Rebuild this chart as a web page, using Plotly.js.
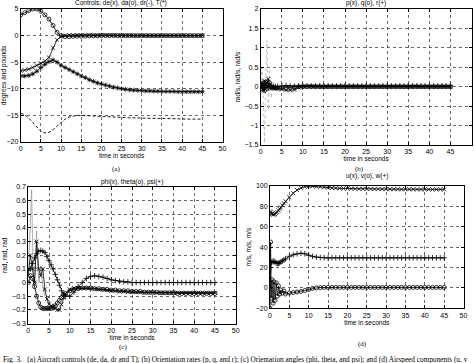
<!DOCTYPE html>
<html>
<head>
<meta charset="utf-8">
<script src="https://cdn.plot.ly/plotly-3.0.1.min.js"></script>
<style>html,body{margin:0;padding:0;background:#fff;}#chart{width:474px;height:363px;}</style>
</head>
<body>
<div id="chart"></div>
<script>
// ---------- Panel (a): controls ----------
var tA = [0,1,2,3,4,5,6,7,8,9,10,11,12,13,14,15,16,17,18,19,20,21,22,23,24,25,26,27,28,29,30,31,32,33,34,35,36,37,38,39,40,41,42,43,44,45];
var deA = [-6.6,-6.5,-6.3,-6.0,-5.6,-5.2,-4.8,-4.1,-2.3,-0.8,-0.2,0,0.1,0.1,0.1,0.1,0.1,0.1,0.1,0.1,0.1,0.1,0.1,0.1,0.05,0.05,0.05,0.05,0,0,0,0,0,0,0,0,0,0,0,0,0,0,0,0,0,0];
var daA = [3.9,4.3,4.7,5.0,5.0,4.6,3.9,3.1,1.9,0.6,0.0,-0.2,-0.2,-0.15,-0.1,-0.1,-0.1,-0.05,-0.05,-0.05,0,0,0,0,0,0,0,0,0,0,0,0,0,0,0,0,0,0,0,0,0,0,0,0,0,0];
var drA = [-14.6,-14.9,-15.5,-16.4,-17.3,-18.0,-18.3,-18.2,-17.7,-17.0,-16.3,-15.7,-15.3,-15.1,-15.0,-15.0,-15.0,-15.05,-15.1,-15.15,-15.2,-15.25,-15.3,-15.3,-15.35,-15.4,-15.4,-15.45,-15.45,-15.5,-15.5,-15.5,-15.55,-15.55,-15.6,-15.6,-15.6,-15.6,-15.65,-15.65,-15.65,-15.7,-15.7,-15.7,-15.7,-15.7];
var TA = [-7.6,-7.6,-7.5,-7.2,-6.7,-6.0,-5.4,-4.9,-4.6,-5.0,-5.6,-6.0,-6.4,-6.8,-7.2,-7.6,-7.9,-8.3,-8.6,-8.9,-9.1,-9.3,-9.5,-9.7,-9.85,-10.0,-10.1,-10.2,-10.25,-10.3,-10.35,-10.4,-10.4,-10.45,-10.45,-10.5,-10.5,-10.5,-10.5,-10.55,-10.55,-10.55,-10.55,-10.55,-10.55,-10.55];

// ---------- Panel (b): orientation rates ----------
var tB = [0,0.3,0.6,0.9,1.2,1.5,1.8,2.1,2.5,3,3.5,4,5,6,7,8,9,10,11,12,13,14,15,16,17,18,19,20,21,22,23,24,25,26,27,28,29,30,31,32,33,34,35,36,37,38,39,40,41,42,43,44,45];
var pB = [0,0.1,-0.1,0.15,0.05,0.1,0.2,0.05,-0.05,-0.03,-0.03,-0.05,-0.07,-0.09,-0.09,-0.08,-0.02,0.01,0.01,0.01,0.01,0,0,0,0,0,0,0,0,0,0,0,0,0,0,0,0,0,0,0,0,0,0,0,0,0,0,0,0,0,0,0,0];
var qB = [0,-0.05,0.1,-0.1,0.12,-0.05,0.05,0.1,0,-0.02,-0.03,-0.04,-0.03,-0.03,-0.02,-0.01,0,0,0,0,0,0,0,0,0,0,0,0,0,0,0,0,0,0,0,0,0,0,0,0,0,0,0,0,0,0,0,0,0,0,0,0,0];
var rB = [0,0.05,0.02,-0.05,0.08,0.03,-0.02,0.02,0.01,0,0,0.01,0.02,0.03,0.02,0.01,0.02,0.02,0.02,0.02,0.02,0.02,0.02,0.02,0.02,0.02,0.02,0.02,0.02,0.02,0.02,0.02,0.02,0.02,0.02,0.02,0.02,0.02,0.02,0.02,0.02,0.02,0.02,0.02,0.02,0.02,0.02,0.02,0.02,0.02,0.02,0.02,0.02];
var tBg = [0,0.3,0.6,0.9,1.2,1.5,1.8,2.1,2.5,3,3.5,4,5,6,7,8];
var rBg = [0,0.5,-0.3,-1.45,0.3,1.2,-0.6,0.4,-0.3,0.15,-0.1,0.05,0.1,0.05,0.02,0];

// ---------- Panel (c): orientation angles ----------
var tCs = [0,0.3,0.6,0.8,1.0,1.2,1.5,1.8,2.0,2.3,2.6,3.0,3.5,4.0];
var phiSpike = [0.05,0.3,0.6,0.68,0.35,0.05,-0.02,0.2,0.38,0.12,0.0,0.12,-0.03,-0.1];
var tC = [0,0.5,1,1.5,2,2.5,3,3.5,4,4.5,5,5.5,6,6.5,7,7.5,8,8.5,9,10,11,12,13,14,15,16,17,18,19,20,21,22,23,24,25,26,27,28,29,30,31,32,33,34,35,36,37,38,39,40,41,42,43,44,45];
var phiC = [0.05,0.2,0.1,0.0,0.3,0.1,0.05,0.1,-0.05,-0.12,-0.16,-0.17,-0.18,-0.19,-0.2,-0.2,-0.16,-0.11,-0.08,-0.05,-0.04,-0.04,-0.04,-0.04,-0.04,-0.045,-0.05,-0.05,-0.055,-0.06,-0.06,-0.065,-0.065,-0.07,-0.07,-0.07,-0.07,-0.075,-0.075,-0.075,-0.075,-0.075,-0.075,-0.075,-0.075,-0.075,-0.075,-0.075,-0.075,-0.075,-0.075,-0.075,-0.075,-0.075,-0.075];
var thetaC = [0,0.05,0.03,-0.03,-0.1,-0.15,-0.18,-0.19,-0.19,-0.19,-0.19,-0.19,-0.18,-0.17,-0.15,-0.13,-0.11,-0.09,-0.08,-0.06,-0.05,-0.045,-0.04,-0.04,-0.04,-0.045,-0.045,-0.05,-0.05,-0.055,-0.055,-0.06,-0.06,-0.06,-0.065,-0.065,-0.065,-0.07,-0.07,-0.07,-0.07,-0.075,-0.075,-0.075,-0.075,-0.08,-0.08,-0.08,-0.08,-0.08,-0.08,-0.08,-0.08,-0.08,-0.08];
var psiC = [0.09,0.1,0.14,0.18,0.21,0.23,0.235,0.23,0.22,0.19,0.16,0.13,0.1,0.06,0.02,-0.02,-0.06,-0.09,-0.1,-0.1,-0.07,-0.03,0.0,0.03,0.045,0.05,0.045,0.04,0.03,0.02,0.015,0.01,0.005,0.005,0,0,0,0,0,0,0,0,0,0,0,0,0,0,0,0,0,0,0,0,0];

// ---------- Panel (d): airspeed components ----------
var tD = [0,0.15,0.3,0.5,0.8,1,1.3,1.6,1.9,2.2,2.5,2.8,3.2,3.6,4,5,6,7,8,9,10,11,12,13,14,15,16,17,18,19,20,21,22,23,24,25,26,27,28,29,30,31,32,33,34,35,36,37,38,39,40,41,42,43,44,45];
var uD = [75,74,73,72.5,72,72,72.5,73.5,74.5,76,77.5,79,81,83,85,89,93,96,98,99.3,99.8,99.8,99.5,99.2,98.8,98.4,98.1,97.9,97.7,97.6,97.5,97.4,97.3,97.2,97.2,97.1,97.1,97,97,97,96.9,96.9,96.9,96.8,96.8,96.8,96.8,96.7,96.7,96.7,96.7,96.7,96.7,96.7,96.7,96.7];
var vD = [-20,45,-10,8,-15,6,-12,5,-8,2,-6,-2,-5,-3,-6,-5,-4.5,-4,-3.5,-2.5,-1.5,-0.5,0,0.3,0.5,0.5,0.5,0.5,0.5,0.5,0.5,0.5,0.5,0.5,0.5,0.5,0.5,0.5,0.5,0.5,0.5,0.5,0.5,0.5,0.5,0.5,0.5,0.5,0.5,0.5,0.5,0.5,0.5,0.5,0.5,0.5];
var wD = [0,20,25,25.5,26,26,25.5,24.5,24,24,24.5,25.5,26.5,27.5,28.5,31,32.5,33.5,34,33.5,32,31,30.2,29.8,29.6,29.5,29.5,29.5,29.5,29.5,29.5,29.5,29.5,29.5,29.5,29.5,29.5,29.5,29.5,29.5,29.5,29.5,29.5,29.5,29.5,29.5,29.5,29.5,29.5,29.5,29.5,29.5,29.5,29.5,29.5,29.5];

// ---------- Text ----------
var titleA = "Controls: de(x), da(o), dr(-), T(*)";
var titleB = "p(x), q(o), r(+)";
var titleC = "phi(x), theta(o), psi(+)";
var titleD = "u(x), v(o), w(+)";
var yTitleA = "degrees and pounds";
var yTitleB = "rad/s, rad/s, rad/s";
var yTitleC = "rad, rad, rad";
var yTitleD = "m/s, m/s, m/s";
var xTitle = "time in seconds";
var figCaption = "Fig. 3.   (a) Aircraft controls (de, da, dr and T); (b) Orientation rates (p, q, and r); (c) Orientation angles (phi, theta, and psi); and (d) Airspeed components (u, v";

// ---------- Geometry helpers ----------
var W = 474, H = 363;
function px(x){ return x / W; }
function py(y){ return 1 - y / H; }

function mk(sym){ return {symbol: sym, size: 4, color: '#000', line: {width: 0.8, color: '#000'}}; }
function tr(x, y, sym, ax, extra){
  var t = {x: x, y: y, xaxis: 'x' + ax, yaxis: 'y' + ax, type: 'scatter',
    mode: sym ? 'lines+markers' : 'lines', line: {color: '#000', width: 0.8}, hoverinfo: 'skip'};
  if (sym) t.marker = mk(sym);
  if (extra) for (var k in extra) t[k] = extra[k];
  return t;
}

var data = [
  tr(tA, deA, 'x-thin-open', ''),
  tr(tA, daA, 'circle-open', ''),
  tr(tA, drA, null, '', {line: {color: '#000', width: 0.9, dash: '3px,2px'}}),
  tr(tA, TA, 'asterisk-open', ''),

  tr(tBg, rBg, null, '2', {line: {color: '#b0b0b0', width: 0.8, dash: 'dot'}}),
  tr(tB, pB, 'x-thin-open', '2'),
  tr(tB, qB, 'circle-open', '2'),
  tr(tB, rB, 'cross-thin-open', '2'),

  tr(tCs, phiSpike, null, '3', {line: {color: '#9a9a9a', width: 0.8}}),
  tr(tC, phiC, 'x-thin-open', '3'),
  tr(tC, thetaC, 'circle-open', '3'),
  tr(tC, psiC, 'cross-thin-open', '3'),

  tr(tD, uD, 'x-thin-open', '4'),
  tr(tD, vD, 'circle-open', '4'),
  tr(tD, wD, 'cross-thin-open', '4')
];

var tickFont = {family: 'Liberation Sans, Arial, sans-serif', size: 7, color: '#000'};
function axis(range, dtick, dom, anchor, title, standoff){
  return {range: range, dtick: dtick, tick0: 0, domain: dom, anchor: anchor,
    showgrid: true, gridcolor: '#444', griddash: 'dot', gridwidth: 0.8,
    zeroline: false, showline: true, linecolor: '#000', linewidth: 1, mirror: 'ticks',
    ticks: 'inside', ticklen: 3, tickcolor: '#000', tickfont: tickFont,
    title: {text: title, font: {family: 'Liberation Sans, Arial, sans-serif', size: 6.5, color: '#000'}, standoff: standoff},
    fixedrange: true};
}

var layout = {
  width: W, height: H, margin: {l: 0, r: 0, t: 0, b: 0},
  paper_bgcolor: '#fff', plot_bgcolor: '#fff', showlegend: false,
  xaxis:  axis([0, 50], 5, [px(20.7), px(222.5)], 'y', xTitle, 1),
  yaxis:  axis([-20, 5], 5, [py(142), py(9)], 'x', yTitleA, 3),
  xaxis2: axis([0, 50], 5, [px(260.7), px(471.5)], 'y2', xTitle, 1),
  yaxis2: axis([-1.5, 2], 0.5, [py(145), py(9)], 'x2', yTitleB, 3),
  xaxis3: axis([0, 50], 5, [px(28.3), px(235.7)], 'y3', xTitle, 1),
  yaxis3: axis([-0.3, 0.7], 0.1, [py(323.5), py(187)], 'x3', yTitleC, 3),
  xaxis4: axis([0, 50], 5, [px(270), px(463.5)], 'y4', xTitle, 1),
  yaxis4: axis([-20, 100], 20, [py(308.3), py(186)], 'x4', yTitleD, 3),
  annotations: []
};

function ann(text, x, y, size, fam, xanchor){
  layout.annotations.push({text: text, x: px(x), y: py(y), xref: 'paper', yref: 'paper',
    xanchor: xanchor || 'center', yanchor: 'middle', showarrow: false,
    font: {family: fam || 'Liberation Sans, Arial, sans-serif', size: size, color: '#000'}});
}
ann(titleA, 121, 3, 6.5);
ann(titleB, 366, 3, 6.5);
ann(titleC, 132, 182, 6.5);
ann(titleD, 367, 176, 6.5);
var serif = 'Liberation Serif, Times New Roman, serif';
ann('(a)', 116, 169, 7, serif);
ann('(b)', 359, 169, 7, serif);
ann('(c)', 123, 347, 7, serif);
ann('(d)', 362, 344, 7, serif);
ann(figCaption, 1, 359, 7.3, serif, 'left');

Plotly.newPlot('chart', data, layout, {staticPlot: true, displayModeBar: false});
</script>
</body>
</html>
